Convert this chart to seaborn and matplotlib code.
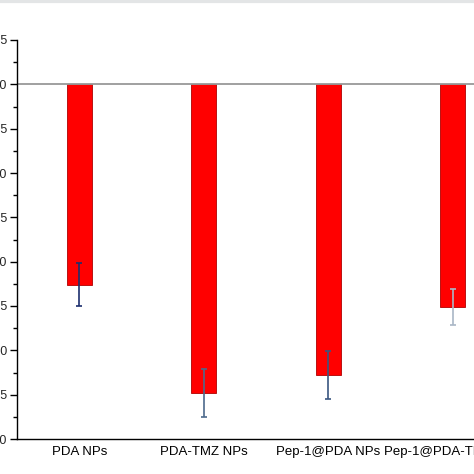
import numpy as np
import pandas as pd
import matplotlib
matplotlib.use("Agg")
import matplotlib.pyplot as plt
import seaborn as sns
from matplotlib.ticker import MultipleLocator, FormatStrFormatter

groups = ['PDA NPs', 'PDA-TMZ NPs', 'Pep-1@PDA NPs', 'Pep-1@PDA-TMZ NPs']
values = [-0.226, -0.348, -0.328, -0.251]
errors = [0.024, 0.027, 0.027, 0.020]
err_colors = ['#1c2f6e', '#4d6a8c', '#3a5680', '#a9b6c6']

df = pd.DataFrame({'group': groups, 'value': values})

sns.set_style('white')
plt.rcParams['font.family'] = ['Liberation Sans', 'DejaVu Sans']

fig = plt.figure(figsize=(4.74, 4.74), dpi=100)
ax = fig.add_axes([17 / 474, 35 / 474, 498 / 474, 399 / 474])

sns.barplot(data=df, x='group', y='value', order=groups, color='#ff0000',
            width=0.2, saturation=1, edgecolor='#b00000', linewidth=0.6,
            errorbar=None, ax=ax)

for i, (v, e, c) in enumerate(zip(values, errors, err_colors)):
    ax.errorbar(i, v, yerr=e, fmt='none', ecolor=c, elinewidth=1.2,
                capsize=2.5, capthick=1.2, zorder=3)

ax.axhline(0, color='#999999', linewidth=1.3, zorder=1)

ax.set_xlim(-0.5, 3.5)
ax.set_ylim(-0.40, 0.05)
ax.yaxis.set_major_locator(MultipleLocator(0.05))
ax.yaxis.set_minor_locator(MultipleLocator(0.025))
ax.yaxis.set_major_formatter(FormatStrFormatter('%.2f'))
ax.tick_params(axis='y', which='major', direction='out', length=5, width=1,
               color='black', labelsize=9, left=True, pad=2)
ax.tick_params(axis='y', which='minor', direction='out', length=3, width=1,
               color='black', left=True)
ax.tick_params(axis='x', length=0, labelsize=9.5, pad=5, colors='black')

ax.set_xlabel('')
ax.set_ylabel('')
for side in ['top', 'right']:
    ax.spines[side].set_visible(False)
for side in ['left', 'bottom']:
    ax.spines[side].set_color('black')
    ax.spines[side].set_linewidth(1.0)

fig.add_artist(plt.Line2D([0, 1], [0.997, 0.997], transform=fig.transFigure,
                          color='#e3e5e6', linewidth=3))

fig.savefig('out.png', dpi=100)
